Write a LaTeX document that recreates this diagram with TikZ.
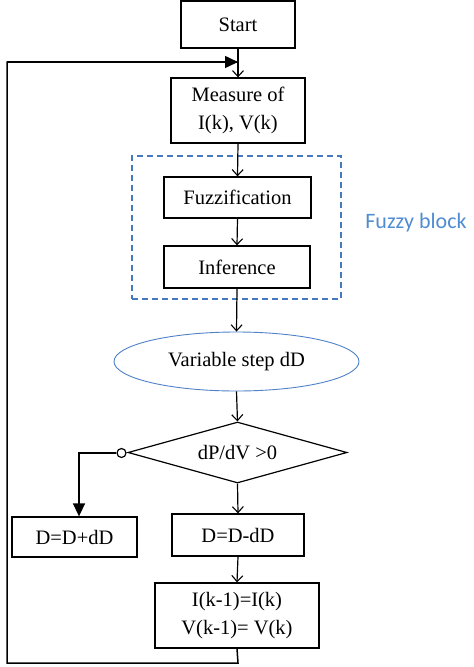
\documentclass[tikz,border=0pt]{standalone}
\usepackage{fontspec}
\setmainfont{Liberation Serif}
\newfontfamily\calib{Carlito}
\usetikzlibrary{arrows.meta,shapes.geometric}
\definecolor{dashblue}{RGB}{70,120,190}
\definecolor{textblue}{RGB}{80,140,210}
\definecolor{ellblue}{RGB}{80,130,200}
\begin{document}
\begin{tikzpicture}[x=1pt,y=-1pt,
  every node/.style={font=\fontsize{20.5}{28}\selectfont, align=center, inner sep=0},
  box/.style={draw=black, line width=1.3pt, rectangle},
  conn/.style={line width=1.2pt, -{Straight Barb[length=6pt,width=11pt,line width=1.1pt]}},
  fconn/.style={line width=1.5pt, -{Triangle[length=13pt,width=12pt]}},
  loopline/.style={line width=1.5pt}
]
\useasboundingbox (0,0) rectangle (474,667);
\node[box, minimum width=114, minimum height=47] (start) at (238,24.5) {Start};
\node[box, minimum width=134, minimum height=65] (meas) at (238,110.5) {Measure of\\I(k), V(k)};
\node[draw=dashblue, dashed, dash pattern=on 6pt off 4pt, line width=1.2pt, minimum width=209, minimum height=143] (fz) at (236.5,227.5) {};
\node[box, minimum width=147, minimum height=41] (fuzz) at (237.5,197.5) {Fuzzification};
\node[box, minimum width=146, minimum height=42] (inf) at (237,267) {Inference};
\node[text=textblue, font=\calib\fontsize{22}{26}\selectfont] (fzlab) at (416,223) {Fuzzy block};
\node[draw=ellblue, line width=0.9pt, ellipse, minimum width=245, minimum height=59] (step) at (236.5,361.5) {Variable step dD};
\node[draw=black, line width=1.2pt, diamond, aspect=3.6, minimum width=219, minimum height=61] (dec) at (237.5,452.5) {dP/dV \textgreater0};
\node[draw=black, line width=1.2pt, circle, minimum size=9, fill=white] (circ) at (121.5,453) {};
\node[box, minimum width=125, minimum height=40] (dplus) at (74.5,537) {D=D+dD};
\node[box, minimum width=132, minimum height=42] (dminus) at (238,535) {D=D-dD};
\node[box, minimum width=164, minimum height=65] (upd) at (237,615.5) {I(k-1)=I(k)\\V(k-1)= V(k)};
\coordinate (lb) at (238,663);
\coordinate (ll) at (7,663);
\coordinate (lt) at (7,62);
\coordinate (lin) at (238,62);
\coordinate (corner) at (79,453);
\draw[conn] (start.south) -- (meas.north);
\draw[conn] (meas.south) -- (fuzz.north);
\draw[conn] (fuzz.south) -- (inf.north);
\draw[conn] (inf.south) -- (step.north);
\draw[conn] (step.south) -- (dec.north);
\draw[conn] (dec.south) -- (dminus.north);
\draw[conn] (dminus.south) -- (upd.north);
\draw[fconn] (circ.west) -- (corner) -- (corner |- dplus.north);
\draw[loopline] (upd.south) -- (lb) -- (ll) -- (lt) -- (lin);
\draw[fconn] (lt) -- (lin);
\end{tikzpicture}
\end{document}
